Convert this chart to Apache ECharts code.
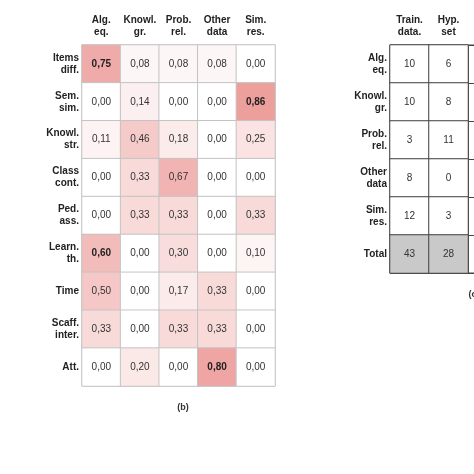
<!DOCTYPE html>
<html>
<head>
<meta charset="utf-8">
<script src="https://cdn.jsdelivr.net/npm/echarts@6/dist/echarts.min.js"></script>
<style>
  html, body { margin: 0; padding: 0; background: #fff; }
  #chart { width: 474px; height: 474px; }
</style>
</head>
<body>
<div id="chart"></div>
<script>
  // (b) heatmap
  const colsB = ['Alg.\neq.', 'Knowl.\ngr.', 'Prob.\nrel.', 'Other\ndata', 'Sim.\nres.']
  const rowsB = ['Items\ndiff.', 'Sem.\nsim.', 'Knowl.\nstr.', 'Class\ncont.', 'Ped.\nass.', 'Learn.\nth.', 'Time', 'Scaff.\ninter.', 'Att.']
  const valuesB = [
    [0.75, 0.08, 0.08, 0.08, 0.00],
    [0.00, 0.14, 0.00, 0.00, 0.86],
    [0.11, 0.46, 0.18, 0.00, 0.25],
    [0.00, 0.33, 0.67, 0.00, 0.00],
    [0.00, 0.33, 0.33, 0.00, 0.33],
    [0.60, 0.00, 0.30, 0.00, 0.10],
    [0.50, 0.00, 0.17, 0.33, 0.00],
    [0.33, 0.00, 0.33, 0.33, 0.00],
    [0.00, 0.20, 0.00, 0.80, 0.00]
  ]
  // cells printed in bold [row, col]
  const boldB = [[0, 0], [1, 4], [5, 0], [8, 3]]

  // (c) table, third column is cut off in the picture
  const colsC = ['Train.\ndata.', 'Hyp.\nset', '']
  const rowsC = ['Alg.\neq.', 'Knowl.\ngr.', 'Prob.\nrel.', 'Other\ndata', 'Sim.\nres.', 'Total']
  const countsC = [
    [10, 6],
    [10, 8],
    [3, 11],
    [8, 0],
    [12, 3]
  ]
  const totalsC = [43, 28]

  let dataB = []
  valuesB.forEach((row, r) => {
    row.forEach((v, c) => {
      let bold = boldB.some(b => b[0] === r && b[1] === c)
      dataB.push({ value: [c, r, v], bold: bold })
    })
  })
  let dataC = []
  countsC.forEach((row, r) => {
    row.forEach((v, c) => dataC.push([c, r, v]))
  })
  let dataTotal = totalsC.map((v, c) => [c, rowsC.length - 1, v])

  const font = 'Liberation Sans, Arial, sans-serif'
  const headLabel = { fontFamily: font, fontSize: 10, fontWeight: 'bold', color: '#222', lineHeight: 12, interval: 0 }

  let chart = echarts.init(document.getElementById('chart'))
  chart.setOption({
    animation: false,
    title: [
      { text: '(b)', left: 178, top: 398, textAlign: 'center',
        textStyle: { fontFamily: font, fontSize: 9, fontWeight: 'bold', color: '#333' } },
      { text: '(c)', left: 469, top: 285, textAlign: 'center',
        textStyle: { fontFamily: font, fontSize: 9, fontWeight: 'bold', color: '#333' } }
    ],
    grid: [
      { left: 82, top: 45, width: 193, height: 341, show: true, borderColor: '#c4c4c4', borderWidth: 1,
        outerBoundsMode: 'none' },
      { left: 390, top: 45, width: 117, height: 228, show: true, borderColor: '#444', borderWidth: 1,
        outerBoundsMode: 'none' }
    ],
    xAxis: [
      { type: 'category', gridIndex: 0, position: 'top', data: colsB,
        axisLine: { show: false }, axisTick: { show: false }, splitLine: { show: false },
        axisLabel: Object.assign({ margin: 7 }, headLabel) },
      { type: 'category', gridIndex: 1, position: 'top', data: colsC,
        axisLine: { show: false }, axisTick: { show: false },
        splitLine: { show: true, interval: 0, lineStyle: { color: '#444', width: 1 } },
        axisLabel: Object.assign({ margin: 7 }, headLabel) }
    ],
    yAxis: [
      { type: 'category', gridIndex: 0, inverse: true, data: rowsB,
        axisLine: { show: false }, axisTick: { show: false }, splitLine: { show: false },
        axisLabel: Object.assign({ margin: 3, align: 'right' }, headLabel) },
      { type: 'category', gridIndex: 1, inverse: true, data: rowsC,
        axisLine: { show: false }, axisTick: { show: false },
        splitLine: { show: true, interval: 0, lineStyle: { color: '#444', width: 1 } },
        axisLabel: Object.assign({ margin: 3, align: 'right' }, headLabel) }
    ],
    visualMap: {
      show: false, seriesIndex: 0, min: 0, max: 1,
      inRange: { color: ['#ffffff', '#ea8f8c'] }
    },
    series: [
      {
        type: 'heatmap', xAxisIndex: 0, yAxisIndex: 0, data: dataB,
        itemStyle: { borderColor: '#c4c4c4', borderWidth: 1 },
        label: {
          show: true, fontFamily: font, fontSize: 10, color: '#333',
          formatter: p => {
            let s = p.value[2].toFixed(2).replace('.', ',')
            return p.data.bold ? '{b|' + s + '}' : s
          },
          rich: { b: { fontFamily: font, fontSize: 10, fontWeight: 'bold', color: '#222' } }
        }
      },
      {
        type: 'heatmap', xAxisIndex: 1, yAxisIndex: 1, data: dataC,
        itemStyle: { color: '#ffffff', borderColor: '#444', borderWidth: 1 },
        label: { show: true, fontFamily: font, fontSize: 10, color: '#333', formatter: p => p.value[2] }
      },
      {
        type: 'heatmap', xAxisIndex: 1, yAxisIndex: 1, data: dataTotal,
        itemStyle: { color: '#c9c9c9', borderColor: '#444', borderWidth: 1 },
        label: { show: true, fontFamily: font, fontSize: 10, color: '#333', formatter: p => p.value[2] }
      }
    ]
  })
</script>
</body>
</html>
